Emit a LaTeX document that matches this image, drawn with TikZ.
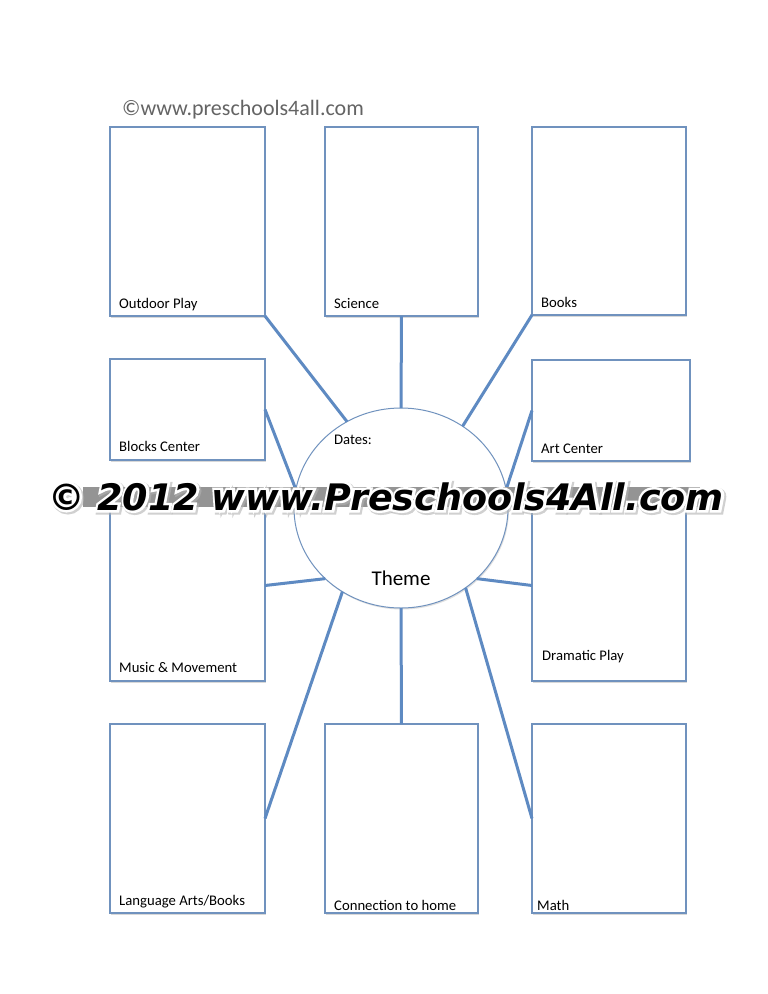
\documentclass[tikz,border=0pt]{standalone}
\usepackage{fontspec}
\setmainfont{Carlito}
\newfontfamily\markfont{DejaVu Sans}
\usepackage{tikz}
\usetikzlibrary{shapes.geometric}
\usetikzlibrary{shadows}
\definecolor{binblue}{RGB}{112,146,190}
\definecolor{spokeblue}{RGB}{94,138,194}
\definecolor{sitegray}{RGB}{100,100,100}
\newcommand{\binwidth}{155pt}
\newcommand{\labelsize}{\fontsize{14.7}{17}\selectfont}
% Outline for the stamp text: fill and stroke the glyphs.
\newcommand{\outlined}[2]{\special{pdf:literal direct 2 Tr #1 w #2 RG}}
\newcommand{\plain}{\special{pdf:literal direct 0 Tr}}
\tikzstyle{bin}=[draw=binblue, line width=1.1pt, fill=white, inner sep=0, outer sep=0,
                 minimum width=\binwidth, anchor=north west,
                 % Soft shadow under each box.
                 drop shadow={shadow xshift=1.2pt, shadow yshift=-1.6pt, opacity=0.3}]
\tikzstyle{tallbin}=[bin, minimum height=189pt]
\tikzstyle{flatbin}=[bin, minimum height=101pt]
\tikzstyle{binlabel}=[inner sep=0, anchor=base west, font=\labelsize]
\tikzstyle{spoke}=[draw=spokeblue, line width=3pt]
\tikzstyle{stamp}=[anchor=base west, inner sep=0, font=\markfont\fontsize{36.5}{40}\selectfont\bfseries\itshape]

\begin{document}
\begin{tikzpicture}[x=1pt, y=-1pt]
        \useasboundingbox[fill=white] (0,0) rectangle (768,994);
        \node[anchor=base west, inner sep=0, text=sitegray, font=\fontsize{22}{26}\selectfont] (site) at (122,115) {©www.preschools4all.com};
        % Top row.
        \node[tallbin] (op) at (110,127) {};
        \node[tallbin, minimum width=153pt] (sci) at (325,127) {};
        \node[tallbin, minimum width=154pt, minimum height=188pt] (bk) at (532,127) {};
        % Second row.
        \node[flatbin] (blk) at (110,359) {};
        \node[flatbin, minimum width=158pt] (art) at (532,360) {};
        % Third row.
        \node[bin, minimum height=191pt] (mus) at (110,490) {};
        \node[bin, minimum width=154pt, minimum height=191pt] (dra) at (532,490) {};
        % Bottom row.
        \node[tallbin] (lang) at (110,724) {};
        \node[tallbin, minimum width=153pt] (home) at (325,724) {};
        \node[tallbin, minimum width=154pt] (math) at (532,724) {};
        \node[ellipse, draw=binblue, line width=1pt, fill=white, inner sep=0, outer sep=0,
              minimum width=214pt, minimum height=200pt,
              drop shadow={shadow xshift=1pt, shadow yshift=-1.5pt, opacity=0.25}] (hub) at (401,508) {};
        \node[binlabel] (oplbl) at ([shift={(9,-8)}]op.south west) {Outdoor Play};
        \node[binlabel] (scilbl) at ([shift={(9,-8)}]sci.south west) {Science};
        \node[binlabel] (bklbl) at ([shift={(9,-8)}]bk.south west) {Books};
        \node[binlabel] (blklbl) at ([shift={(9,-9)}]blk.south west) {Blocks Center};
        \node[binlabel] (artlbl) at ([shift={(9,-8)}]art.south west) {Art Center};
        \node[binlabel] (muslbl) at ([shift={(9,-9)}]mus.south west) {Music \& Movement};
        \node[binlabel] (dralbl) at ([shift={(10,-21)}]dra.south west) {Dramatic Play};
        \node[binlabel] (langlbl) at ([shift={(9,-8)}]lang.south west) {Language Arts/Books};
        \node[binlabel] (homelbl) at ([shift={(9,-3)}]home.south west) {Connection to home};
        \node[binlabel] (mathlbl) at ([shift={(5,-3)}]math.south west) {Math};
        \node[binlabel] (dates) at (334,444) {Dates:};
        \node[anchor=base, inner sep=0, font=\fontsize{21}{25}\selectfont] (theme) at (401,585) {Theme};
        \draw[spoke] (op.south east) -- (hub.122);
        \draw[spoke] (sci.south) -- (hub.north);
        \draw[spoke] (bk.south west) -- (hub.53);
        \draw[spoke] (blk.east) -- (hub.170);
        \draw[spoke] (art.west) -- (hub.10);
        \draw[spoke] (mus.east) -- (hub.223);
        \draw[spoke] (dra.west) -- (hub.317);
        \draw[spoke] (lang.east) -- (hub.235);
        \draw[spoke] (math.west) -- (hub.309);
        \draw[spoke] (home.north) -- (hub.south);
        % Watermark band and stamp.
        \fill[black!42] (83,487) rectangle (700,507);
        \coordinate (stampat) at (48,510);
        \node[stamp, text=black!30, opacity=0.6] (stampshade) at ([xshift=1.5pt, yshift=-1.5pt]stampat) {\outlined{6}{0.7 0.7 0.7}© 2012 www.Preschools4All.com\plain};
        \node[stamp, text=white] (stamprim) at (stampat) {\outlined{5}{1 1 1}© 2012 www.Preschools4All.com\plain};
        \node[stamp] (stamp) at (stampat) {© 2012 www.Preschools4All.com};
    \end{tikzpicture}
\end{document}
